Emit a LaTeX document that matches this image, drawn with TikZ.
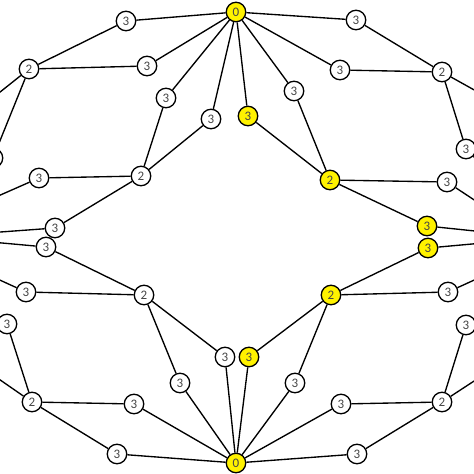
\documentclass[tikz,border=0pt]{standalone}
\usepackage{fontspec}
\setmainfont{Carlito}
\definecolor{vyel}{RGB}{255,242,0}
\definecolor{vtxt}{RGB}{70,70,70}
\begin{document}
\begin{tikzpicture}[x=1pt,y=-1pt,
  vert/.style={circle,draw=black,line width=1.3pt,fill=white,minimum size=19.5pt,inner sep=0pt,
    font=\fontsize{13}{13}\selectfont,text=vtxt},
  yv/.style={vert,fill=vyel},
  edge/.style={line width=1.35pt,black}]
\clip (0,0) rectangle (474,474);
\fill[white] (0,0) rectangle (474,474);
% nodes
\node[yv] (T0) at (236,12) {0};
\node[yv] (B0) at (236,463) {0};
\node[vert] (A) at (126,21) {3};
\node[vert] (B) at (29,69) {2};
\node[vert] (C) at (147,66) {3};
\node[vert] (D) at (166,98) {3};
\node[vert] (E) at (211,119) {3};
\node[yv] (F) at (248,116) {3};
\node[vert] (G) at (294,91) {3};
\node[vert] (H) at (340,70) {3};
\node[vert] (I) at (356,20) {3};
\node[vert] (J) at (442,72) {2};
\node[vert] (K) at (466,149) {3};
\node[vert] (Pl) at (-7,158) {};
\node[vert] (L) at (141,176) {2};
\node[vert] (N) at (39,178) {3};
\node[vert] (O) at (55,228) {3};
\node[vert] (P) at (46,247) {3};
\node[vert] (R) at (26,292) {3};
\node[vert] (Q) at (144,295) {2};
\node[yv] (M) at (330,180) {2};
\node[vert] (S) at (447,182) {3};
\node[yv] (U) at (427,226) {3};
\node[yv] (V) at (428,248) {3};
\node[vert] (X) at (448,292) {3};
\node[yv] (W) at (331,295) {2};
\node[vert] (Y) at (466,325) {3};
\node[vert] (Z) at (442,402) {2};
\node[vert] (lb3) at (7,324) {3};
\node[vert] (lb2) at (32,402) {2};
\node[vert] (b1) at (134,404) {3};
\node[vert] (b2) at (117,454) {3};
\node[vert] (b3) at (180,383) {3};
\node[vert] (b4) at (225,357) {3};
\node[yv] (b5) at (249,357) {3};
\node[vert] (b6) at (295,383) {3};
\node[vert] (b7) at (341,404) {3};
\node[vert] (b8) at (357,454) {3};
% off-image ends
\coordinate (eB) at (-20,108);
\coordinate (eN) at (-20,204);
\coordinate (eO) at (-20,233.5);
\coordinate (eP) at (-20,241);
\coordinate (eR) at (-20,271);
\coordinate (eL2) at (-20,366);
\coordinate (eJ) at (494,101);
\coordinate (eK) at (494,177);
\coordinate (eS) at (494,213);
\coordinate (eU) at (494,233);
\coordinate (eV) at (494,242);
\coordinate (eX) at (494,271);
\coordinate (eZ) at (494,368);
% edges
\foreach \a/\b in {T0/A,A/B,T0/C,C/B,T0/D,D/L,T0/E,E/L,T0/F,F/M,T0/G,G/M,T0/H,H/J,T0/I,I/J,J/K,
  B/Pl,N/L,L/O,P/Q,R/Q,M/S,M/U,V/W,W/X,Q/b3,Q/b4,W/b5,W/b6,
  lb2/lb3,lb2/b1,lb2/b2,b1/B0,b2/B0,b3/B0,b4/B0,b5/B0,b6/B0,b7/B0,b8/B0,Z/b7,Z/b8,Z/Y,
  B/eB,N/eN,O/eO,P/eP,R/eR,lb2/eL2,J/eJ,K/eK,S/eS,U/eU,V/eV,X/eX,Z/eZ}
  \draw[edge] (\a) -- (\b);
\end{tikzpicture}
\end{document}
